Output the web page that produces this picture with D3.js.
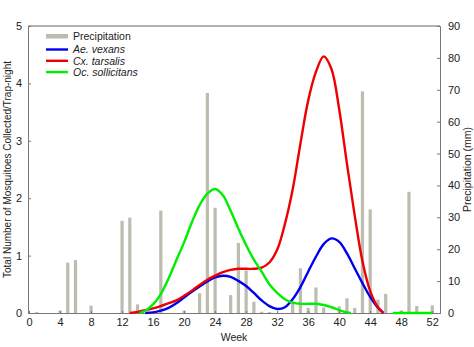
<!DOCTYPE html>
<html>
<head>
<meta charset="utf-8">
<script src="https://cdn.jsdelivr.net/npm/d3@7"></script>
<style>
  html, body { margin: 0; padding: 0; background: #fff; }
  svg { display: block; font-family: "Liberation Sans", Arial, sans-serif; }
</style>
</head>
<body>
<svg id="chart" width="474" height="347"></svg>
<script>
// ---- data ----
const precipWeeks = [1, 4, 5, 6, 8, 12, 13, 14, 17, 20, 22, 23, 24, 26, 27, 28, 29, 30, 31, 34, 35, 36, 37, 38, 40, 41, 42, 43, 44, 45, 46, 48, 49, 50, 52];
const precipMM    = [0.3, 0.8, 15.8, 16.6, 2.3, 28.9, 29.9, 2.7, 32.1, 0.8, 6.2, 69, 33, 5.6, 22, 13.3, 3.5, 0.4, 0.3, 3.6, 14, 1.6, 8, 1.7, 2.1, 4.6, 1.6, 69.5, 32.5, 4.2, 6, 0.8, 38, 2.2, 2.4];

const vexansWeeks = [15, 16, 17, 18, 19, 20, 21, 22, 23, 24, 25, 26, 27, 28, 29, 30, 31, 32, 33, 34, 35, 36, 37, 38, 39, 40, 41, 42, 43, 44, 45, 45.7];
const vexans      = [0, 0.01, 0.04, 0.09, 0.17, 0.27, 0.37, 0.46, 0.55, 0.62, 0.65, 0.63, 0.56, 0.47, 0.35, 0.22, 0.12, 0.07, 0.1, 0.24, 0.45, 0.72, 0.98, 1.2, 1.3, 1.24, 1.04, 0.78, 0.52, 0.28, 0.09, 0];

const tarsalisWeeks = [13, 14, 15, 16, 17, 18, 19, 20, 21, 22, 23, 24, 25, 26, 27, 28, 29, 30, 31, 32, 33, 34, 35, 36, 37, 38, 39, 40, 41, 42, 43, 44, 45, 45.7];
const tarsalis      = [0, 0.02, 0.05, 0.08, 0.12, 0.17, 0.22, 0.3, 0.39, 0.49, 0.58, 0.65, 0.71, 0.75, 0.77, 0.77, 0.77, 0.79, 0.88, 1.1, 1.55, 2.15, 2.95, 3.7, 4.2, 4.47, 4.25, 3.55, 2.6, 1.7, 0.9, 0.38, 0.1, 0];

const sollicitansWeeks = [14.3, 15, 16, 17, 18, 19, 20, 21, 22, 23, 24, 25, 26, 27, 28, 29, 30, 31, 32, 33, 34, 35, 36, 37, 38, 39, 40, 41, 41.5];
const sollicitans      = [0, 0.04, 0.15, 0.33, 0.6, 0.92, 1.23, 1.58, 1.88, 2.08, 2.16, 2.05, 1.78, 1.47, 1.18, 0.93, 0.72, 0.5, 0.35, 0.24, 0.18, 0.16, 0.16, 0.16, 0.14, 0.1, 0.05, 0.01, 0];
const sollicitansLateWeeks = [46.9, 48, 50, 52];
const sollicitansLate      = [0, 0, 0, 0];

const xTicks = [0, 4, 8, 12, 16, 20, 24, 28, 32, 36, 40, 44, 48, 52];
const yTicks = [0, 1, 2, 3, 4, 5];
const y2Ticks = [0, 10, 20, 30, 40, 50, 60, 70, 80, 90];

const seriesNames = ["Ae. vexans", "Cx. tarsalis", "Oc. sollicitans"];
const seriesColors = ["#0000ee", "#ee0000", "#00ee00"];

// ---- layout ----
const svg = d3.select("#chart");
const L = 28, R = 440, T = 26, B = 313;

const x = d3.scaleLinear().domain([0, 53]).range([L + 1, R]);
const y = d3.scaleLinear().domain([0, 5]).range([B, T]);
const y2 = d3.scaleLinear().domain([0, 90]).range([B, T]);

const axisColor = "#777";

// bars
const barW = 3.2;
svg.append("g").selectAll("rect")
  .data(precipWeeks.map((w, i) => ({ w, v: precipMM[i] })))
  .join("rect")
  .attr("x", d => x(d.w) - barW / 2)
  .attr("y", d => y2(d.v))
  .attr("width", barW)
  .attr("height", d => B - y2(d.v))
  .attr("fill", "#bdbcb1");

// frame
svg.append("line").attr("x1", L).attr("x2", R).attr("y1", T).attr("y2", T)
  .attr("stroke", "#666").attr("stroke-width", 1.2);

// axes
const fontSize = 11;
const gx = svg.append("g").attr("transform", `translate(0,${B})`)
  .call(d3.axisBottom(x).tickValues(xTicks).tickSize(-2).tickPadding(5).tickFormat(d3.format("d")));
const gy = svg.append("g").attr("transform", `translate(${L},0)`)
  .call(d3.axisLeft(y).tickValues(yTicks).tickSize(-3).tickPadding(6).tickFormat(d3.format("d")));
const gy2 = svg.append("g").attr("transform", `translate(${R},0)`)
  .call(d3.axisRight(y2).tickValues(y2Ticks).tickSize(-3).tickPadding(8).tickFormat(d3.format("d")));

[gx, gy, gy2].forEach(g => {
  g.selectAll(".domain").attr("stroke", axisColor);
  g.selectAll(".tick line").attr("stroke", axisColor);
  g.selectAll("text").attr("fill", "#222").style("font-size", fontSize + "px")
    .style("font-family", "'Liberation Sans', Arial, sans-serif");
});

// lines
const line = d3.line().x(d => x(d.w)).y(d => y(d.v)).curve(d3.curveCatmullRom.alpha(0.5));
const seriesData = [
  [vexansWeeks.map((w, i) => ({ w, v: vexans[i] }))],
  [tarsalisWeeks.map((w, i) => ({ w, v: tarsalis[i] }))],
  [sollicitansWeeks.map((w, i) => ({ w, v: sollicitans[i] })),
   sollicitansLateWeeks.map((w, i) => ({ w, v: sollicitansLate[i] }))]
];
seriesData.forEach((segs, k) => {
  segs.forEach(seg => {
    svg.append("path").datum(seg)
      .attr("d", line)
      .attr("fill", "none")
      .attr("stroke", seriesColors[k])
      .attr("stroke-width", 2.4)
      .attr("stroke-linejoin", "round");
  });
});

// axis titles
svg.append("text").attr("x", 234).attr("y", 341)
  .attr("text-anchor", "middle").style("font-size", "10.5px").attr("fill", "#222").text("Week");
svg.append("text").attr("transform", `translate(11,${(T + B) / 2}) rotate(-90)`)
  .attr("text-anchor", "middle").style("font-size", "10px").attr("fill", "#222")
  .text("Total Number of Mosquitoes Collected/Trap-night");
svg.append("text").attr("transform", `translate(471,${(T + B) / 2}) rotate(-90)`)
  .attr("text-anchor", "middle").style("font-size", "10.5px").attr("fill", "#222")
  .text("Precipitation (mm)");

// legend
const lg = svg.append("g");
lg.append("rect").attr("x", 46).attr("y", 34).attr("width", 22).attr("height", 4.5).attr("fill", "#bdbcb1");
lg.append("text").attr("x", 73).attr("y", 40).style("font-size", "10.5px").attr("fill", "#222").text("Precipitation");
seriesNames.forEach((n, i) => {
  const yy = 49.5 + i * 11.3;
  lg.append("line").attr("x1", 46).attr("x2", 68).attr("y1", yy).attr("y2", yy)
    .attr("stroke", seriesColors[i]).attr("stroke-width", 2.4);
  lg.append("text").attr("x", 73).attr("y", yy + 3.8).style("font-size", "10.5px")
    .style("font-style", "italic").attr("fill", "#222").text(n);
});
</script>
</body>
</html>
